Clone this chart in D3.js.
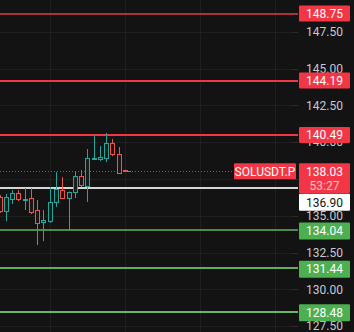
<!DOCTYPE html>
<html>
<head>
<meta charset="utf-8">
<script src="https://cdn.jsdelivr.net/npm/d3@7"></script>
<style>
  html, body { margin: 0; padding: 0; background: #131313; }
  svg { display: block; }
  text { font-family: Roboto, "Liberation Sans", sans-serif; }
</style>
</head>
<body>
<svg id="chart"></svg>
<script>
// candles, oldest first
const opens  = [136.28, 135.33, 136.14, 136.55, 136.12, 136.21, 135.39, 134.55, 134.64, 135.94, 136.75,
                136.21, 136.62, 137.70, 137.02, 138.86, 138.86, 138.93, 139.95, 139.20, 138.08];
const highs  = [136.40, 136.48, 136.75, 136.75, 136.89, 136.89, 136.07, 135.39, 136.95, 137.97, 137.63,
                136.65, 138.04, 138.11, 139.54, 140.49, 139.74, 140.63, 140.22, 139.67, 138.12];
const lows   = [135.20, 134.64, 135.80, 136.00, 135.39, 135.12, 133.01, 133.28, 134.52, 135.60, 136.14,
                134.03, 136.21, 136.95, 135.94, 138.79, 138.72, 138.65, 139.06, 137.84, 138.01];
const closes = [135.33, 136.28, 136.55, 136.14, 136.16, 135.26, 134.52, 134.68, 135.94, 136.82, 136.21,
                136.62, 137.70, 137.09, 138.93, 138.93, 138.99, 139.95, 139.20, 137.91, 138.03];

const priceTicks = [127.5, 130, 132.5, 135, 137.5, 140, 142.5, 145, 147.5];
const timeGrid = [8, 20, 32, 44];

const resistance = [148.75, 144.19, 140.49];
const support = [134.04, 131.44, 128.48];
const markPrice = 136.90;
const lastPrice = 138.03;
const symbol = 'SOLUSDT.P';
const countdown = '53:27';

const width = 354, height = 332;
const plotRight = 298;

const svg = d3.select('#chart')
    .attr('width', width)
    .attr('height', height);

svg.append('rect')
    .attr('width', width)
    .attr('height', height)
    .attr('fill', '#131313');

// scales
const yScale = d3.scaleLinear()
    .domain([127.1, 149.67])
    .range([height, 0]);

const xScale = d3.scaleLinear()
    .domain([0, 20])
    .range([-0.4, 125]);

const px = v => Math.round(v) + 0.5;

// grid
const grid = svg.append('g');
grid.selectAll('.hgrid')
    .data(priceTicks)
    .enter().append('line')
        .attr('x1', 0).attr('x2', plotRight)
        .attr('y1', d => px(yScale(d))).attr('y2', d => px(yScale(d)))
        .attr('stroke', '#1f1f1f');
grid.selectAll('.vgrid')
    .data(timeGrid)
    .enter().append('line')
        .attr('x1', d => px(xScale(d))).attr('x2', d => px(xScale(d)))
        .attr('y1', 0).attr('y2', height)
        .attr('stroke', '#1f1f1f');

// level lines
const levelLines = svg.append('g');
const resColors = ['#a8333d', '#f23645', '#f23645'];
const supColors = ['#4e8a4e', '#5fae5f', '#66b866'];

levelLines.selectAll('.res')
    .data(resistance)
    .enter().append('line')
        .attr('x1', 0).attr('x2', plotRight)
        .attr('y1', d => Math.round(yScale(d))).attr('y2', d => Math.round(yScale(d)))
        .attr('stroke', (d, i) => resColors[i])
        .attr('stroke-width', 2);

levelLines.selectAll('.sup')
    .data(support)
    .enter().append('line')
        .attr('x1', 0).attr('x2', plotRight)
        .attr('y1', d => Math.round(yScale(d))).attr('y2', d => Math.round(yScale(d)))
        .attr('stroke', (d, i) => supColors[i])
        .attr('stroke-width', 2);

levelLines.append('line')
    .attr('x1', 0).attr('x2', plotRight)
    .attr('y1', Math.round(yScale(markPrice))).attr('y2', Math.round(yScale(markPrice)))
    .attr('stroke', '#d6d6d6')
    .attr('stroke-width', 2);

// last price dotted line
const candleData = opens.map((o, i) => ({i: i, o: o, h: highs[i], l: lows[i], c: closes[i]}));
const lastX = xScale(candleData.length - 1);
svg.append('line')
    .attr('x1', 0).attr('x2', 234)
    .attr('y1', px(yScale(lastPrice))).attr('y2', px(yScale(lastPrice)))
    .attr('stroke', '#e03342')
    .attr('stroke-dasharray', '1,2');

// candles
const up = '#26a69a', down = '#ef5350';
const candles = svg.append('g')
    .selectAll('g')
    .data(candleData)
    .enter().append('g');

candles.append('line')
    .attr('x1', d => px(xScale(d.i))).attr('x2', d => px(xScale(d.i)))
    .attr('y1', d => yScale(d.h)).attr('y2', d => yScale(d.l))
    .attr('stroke', d => d.c >= d.o ? up : down);

candles.append('rect')
    .attr('x', d => Math.round(xScale(d.i)) - 1.5)
    .attr('width', 4)
    .attr('y', d => Math.round(yScale(Math.max(d.o, d.c))) + 0.5)
    .attr('height', d => Math.max(1, Math.round(Math.abs(yScale(d.o) - yScale(d.c)))))
    .attr('fill', d => d.c >= d.o ? '#13201d' : '#221415')
    .attr('stroke', d => d.c >= d.o ? up : down);

// last candle sits on top of the dotted line: short solid tick
svg.append('line')
    .attr('x1', lastX + 2).attr('x2', lastX + 6)
    .attr('y1', px(yScale(lastPrice))).attr('y2', px(yScale(lastPrice)))
    .attr('stroke', down);

// price axis
const axis = svg.append('g');
axis.selectAll('.tick')
    .data(priceTicks)
    .enter().append('text')
        .attr('x', 306)
        .attr('y', d => yScale(d))
        .attr('dy', '0.35em')
        .attr('font-size', 12)
        .attr('fill', '#c7c9cf')
        .text(d => d3.format('.2f')(d));

axis.selectAll('.tickmark')
    .data(priceTicks)
    .enter().append('line')
        .attr('x1', 292).attr('x2', plotRight)
        .attr('y1', d => px(yScale(d))).attr('y2', d => px(yScale(d)))
        .attr('stroke', '#2c2c2c');

function priceBox(v, yc, bg, fg, h) {
    const g = axis.append('g');
    g.append('rect')
        .attr('x', 299).attr('width', 51)
        .attr('y', yc - h / 2).attr('height', h)
        .attr('rx', 1)
        .attr('fill', bg);
    g.append('text')
        .attr('x', 324.5).attr('y', yc)
        .attr('dy', '0.36em')
        .attr('text-anchor', 'middle')
        .attr('font-size', 12)
        .attr('fill', fg)
        .text(d3.format('.2f')(v));
    return g;
}

resistance.forEach(v => priceBox(v, yScale(v), '#f23645', '#ffffff', 16));
support.forEach(v => priceBox(v, yScale(v) + 1, '#4caf50', '#ffffff', 17));

// last price with countdown
const lastY = yScale(lastPrice);
axis.append('rect')
    .attr('x', 299).attr('width', 51)
    .attr('y', lastY - 8).attr('height', 30)
    .attr('rx', 1)
    .attr('fill', '#f23645');
axis.append('text')
    .attr('x', 324.5).attr('y', lastY)
    .attr('dy', '0.36em')
    .attr('text-anchor', 'middle')
    .attr('font-size', 12)
    .attr('fill', '#ffffff')
    .text(d3.format('.2f')(lastPrice));
axis.append('text')
    .attr('x', 324.5).attr('y', lastY + 14)
    .attr('dy', '0.36em')
    .attr('text-anchor', 'middle')
    .attr('font-size', 12)
    .attr('fill', '#fcc2c8')
    .text(countdown);

// mark price pushed below the last price box
priceBox(markPrice, lastY + 31, '#ffffff', '#131313', 17);

// symbol tag
svg.append('rect')
    .attr('x', 234).attr('width', 62)
    .attr('y', lastY - 8).attr('height', 16)
    .attr('rx', 1)
    .attr('fill', '#f23645');
svg.append('text')
    .attr('x', 265).attr('y', lastY)
    .attr('dy', '0.36em')
    .attr('text-anchor', 'middle')
    .attr('font-size', 12)
    .attr('fill', '#ffffff')
    .text(symbol);
</script>
</body>
</html>
